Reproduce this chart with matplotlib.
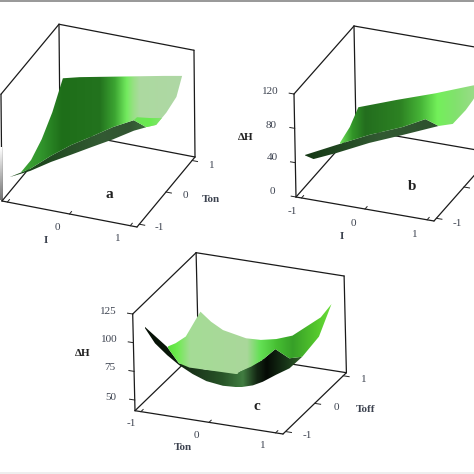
#### Three response surfaces (dH vs I, Ton, Toff) drawn on one sheet ####

import matplotlib
matplotlib.use('Agg')
import matplotlib.pyplot as plt
import numpy as np
from matplotlib.colors import LinearSegmentedColormap
from matplotlib.patches import Polygon

plt.rcParams['font.family'] = ['Liberation Serif', 'DejaVu Serif']

tick_pos = [-0.92, 0, 0.9]
tick_text = ['-1', '0', '1']

# Panel a: surface outline (I, Ton, dH)
a_top_x = [-.95, -.7, -.45, -.2, .05, .3, .55, .7, .82, .82, .82, .82,
           .55, .3, .05, -.2, -.45, -.7, -.95, -.95, -.95, -.95, -.95]
a_top_y = [-.85, -.72, -.58, -.45, -.31, -.18, -.04, .04, .1, .45, .8, 1,
           1, 1, 1, 1, 1, 1, 1, .63, .26, -.11, -.48]
a_top_z = [22, 30, 43, 54, 62, 71, 77, 68, 70, 70, 74, 90,
           86, 82, 78, 74, 70, 66, 61, 37, 21, 12, 12]
a_low_x = [-.95, -.7, -.45, -.2, .05, .3, .55, .7, .55, .3, .05, -.2, -.45, -.7]
a_low_y = [-.85, -.72, -.58, -.45, -.31, -.18, -.04, .04, -.04, -.18, -.31, -.45, -.58, -.72]
a_low_z = [22, 30, 43, 54, 62, 71, 77, 68, 65, 57, 50, 43, 36, 27.6]
# bright patch at the front right corner of a
a_tip_x = [.55, .7, .82, .82, .7, .55]
a_tip_y = [-.04, .04, .1, .3, .2, .07]
a_tip_z = [77, 68, 70, 70, 72, 76]

# Panel b
b_top_x = [-.57, -.17, .24, .52, .68, .85, .85, .85, .85, .71, .17, -.41, -.96, -.96, -.96]
b_top_y = [-.62, -.44, -.26, -.14, -.07, .01, .44, .68, 1, 1, 1, 1, 1, .71, .37]
b_top_z = [51.5, 61.7, 69.6, 77.9, 69.4, 71, 70, 72, 78, 74.6, 58, 42, 25.9, 14.4, 9]
b_low_x = [-.96, -.57, -.17, .24, .52, .68, .24, -.17, -.57, -.85]
b_low_y = [-.79, -.62, -.44, -.26, -.14, -.07, -.26, -.44, -.62, -.74]
b_low_z = [41, 51.5, 61.7, 69.6, 77.9, 69.4, 60.3, 52.4, 42.2, 36]

# Panel c
c_top_x = [-.73, -.6, -.48, -.29, .1, .09, .23, .36, .51, .67, .82, .82, .82,
           .67, .28, .06, -.15, -.35, -.66, -.82,
           -.96, -.96, -.96, -.96]
c_top_y = [-.58, -.52, -.47, -.39, -.32, -.24, -.18, -.13, -.06, 0, .06, .59, 1,
           1, 1, 1, 1, 1, 1, 1,
           1, .84, .53, .21]
c_top_z = [87.9, 73.3, 69.4, 67.2, 65.5, 65.4, 69.7, 75.4, 84.6, 76.6, 77.9, 81.3, 98.7,
           85.6, 65.7, 60.5, 57.6, 57, 61, 66.7,
           74, 71, 64.9, 67.6]
c_low_x = [-1, -.73, -.6, -.29, .09, .36, .51, .67, .82, .67, .51, .36, .245, .09, -.1, -.29,
           -.445, -.6, -.73, -.87]
c_low_y = [-.69, -.58, -.52, -.39, -.24, -.13, -.06, 0, .06, 0, -.06, -.13, -.175, -.24, -.316, -.39,
           -.457, -.52, -.58, -.63]
c_low_z = [107, 87.9, 73.3, 67.2, 65.4, 75.4, 84.6, 76.6, 77.9, 67.9, 62.2, 56.5, 53.4, 51.8, 53.3, 57.4,
           63.8, 71.8, 80.6, 90.9]

# Colours along the screen x of each surface
a_top_col = [(10, (70, 170, 60)), (40, (50, 150, 45)), (62, (30, 110, 25)), (100, (35, 115, 30)),
             (115, (60, 165, 50)), (127, (115, 235, 95)), (133, (150, 225, 130)),
             (140, (172, 218, 160)), (185, (175, 215, 165))]
a_low_col = [(10, (20, 60, 20)), (100, (50, 90, 50)), (130, (50, 85, 50)), (146, (60, 110, 60))]
a_tip_col = [(130, (110, 225, 90)), (150, (105, 235, 80)), (165, (140, 225, 120))]
b_top_col = [(340, (110, 225, 90)), (352, (50, 150, 40)), (365, (35, 110, 30)), (400, (45, 130, 35)),
             (420, (70, 180, 55)), (437, (115, 240, 90)), (455, (130, 225, 110)), (490, (175, 215, 160))]
b_low_col = [(305, (20, 55, 20)), (380, (50, 90, 50)), (441, (45, 80, 45))]
c_top_col = [(168, (90, 225, 60)), (177, (110, 235, 80)), (190, (165, 220, 150)), (247, (170, 215, 155)),
             (260, (100, 225, 85)), (277, (70, 190, 50)), (293, (55, 160, 40)), (317, (85, 200, 45)),
             (334, (110, 225, 60))]
c_low_col = [(145, (5, 15, 5)), (173, (10, 25, 10)), (190, (25, 50, 25)), (223, (40, 85, 40)),
             (243, (65, 125, 65)), (257, (20, 40, 20)), (267, (5, 10, 5)), (287, (25, 55, 25)),
             (304, (50, 100, 40))]

fig = plt.figure(figsize=(4.74, 4.74), dpi=100)
ax = fig.add_axes([0, 0, 1, 1])


def project(view, x, y, z):
    # view = origin, x axis, y axis, z axis (pixels), z at bottom, z span
    o, ex, ey, ez, z0, zs = view
    x, y, z = np.asarray(x, float), np.asarray(y, float), np.asarray(z, float)
    a = (x + 1) / 2
    b = (y + 1) / 2
    c = (z - z0) / zs
    return o[0] + a * ex[0] + b * ey[0] + c * ez[0], o[1] + a * ex[1] + b * ey[1] + c * ez[1]


def surface(view, xs, ys, zs, stops):
    px, py = project(view, xs, ys, zs)
    left, right = stops[0][0], stops[-1][0]
    cmap = LinearSegmentedColormap.from_list(
        'g', [((s - left) / (right - left), tuple(v / 255 for v in c)) for s, c in stops])
    im = ax.imshow(np.linspace(0, 1, 256)[None, :], extent=(left, right, py.max(), py.min()),
                   cmap=cmap, aspect='auto', zorder=3, interpolation='bilinear')
    clip = Polygon(np.column_stack([px, py]), transform=ax.transData)
    im.set_clip_path(clip)


def box(view, ztop, zticks=(), front_left=True):
    z0 = view[4]
    edges = [((-1, -1, z0), (1, -1, z0)), ((1, -1, z0), (1, 1, z0)), ((1, 1, z0), (-1, 1, z0)),
             ((-1, 1, z0), (-1, -1, z0)), ((-1, 1, z0), (-1, 1, ztop)), ((1, 1, z0), (1, 1, ztop)),
             ((-1, 1, ztop), (1, 1, ztop)), ((-1, 1, ztop), (-1, -1, ztop))]
    if front_left:
        edges.append(((-1, -1, z0), (-1, -1, ztop)))
    for p, q in edges:
        lx, ly = project(view, [p[0], q[0]], [p[1], q[1]], [p[2], q[2]])
        ax.plot(lx, ly, color='#1a1a1a', lw=0.9, zorder=2, solid_capstyle='round')
    for t in tick_pos:
        lx, ly = project(view, [t, t], [-1, -.93], [z0, z0])
        ax.plot(lx, ly, color='#222222', lw=0.7, zorder=2)
        lx, ly = project(view, [1, 1.08], [t, t], [z0, z0])
        ax.plot(lx, ly, color='#222222', lw=0.7, zorder=2)
    for t in zticks:
        lx, ly = project(view, [-1, -1.07], [-1, -1], [t, t])
        ax.plot(lx, ly, color='#222222', lw=0.7, zorder=2)


def label(x, y, s, size=8, bold=False, color='#3d4350'):
    ax.text(x, y, s, fontsize=size, color=color, ha='center', va='center',
            fontweight='bold' if bold else 'normal', zorder=5)


# Scan border of the sheet
ax.fill_between([0, 474], 0, 2, color='#9a9a9a', lw=0)
ax.fill_between([0, 474], 472, 474, color='#eeeeee', lw=0)

view_a = ((2, 201), (135, 26), (58, -70), (-1, -105), 0, 120)
box(view_a, 122)
ax.imshow(np.linspace(1, 0.45, 64)[:, None], extent=(0, 2, 200, 147), cmap='gray', vmin=0, vmax=1,
          aspect='auto', zorder=3)
surface(view_a, a_low_x, a_low_y, a_low_z, a_low_col)
surface(view_a, a_top_x, a_top_y, a_top_z, a_top_col)
surface(view_a, a_tip_x, a_tip_y, a_tip_z, a_tip_col)

view_b = ((296, 197), (138, 24), (60, -68), (-2, -103), 0, 120)
box(view_b, 120, [0, 40, 80, 120])
surface(view_b, b_low_x, b_low_y, b_low_z, b_low_col)
surface(view_b, b_top_x, b_top_y, b_top_z, b_top_col)

view_c = ((135, 410.7), (148, 23.3), (63.4, -61.3), (-2.3, -96.7), 40.7, 84.3)
box(view_c, 125, [50, 75, 100, 125])
surface(view_c, c_low_x, c_low_y, c_low_z, c_low_col)
surface(view_c, c_top_x, c_top_y, c_top_z, c_top_col)

# Panel a text
for (x, y), s in zip([(159, 227), (185, 196), (212, 165)], tick_text):
    label(x, y, s)
for (x, y), s in zip([(57, 227), (118, 238)], tick_text[1:]):
    label(x, y, s)
label(211, 200, 'Ton', bold=True)
label(46, 240, 'I', bold=True)
label(109, 194, 'a', size=11, bold=True, color='#222222')

# Panel b text
for (x, y), s in zip([(272, 192), (272, 157), (271, 125), (270, 91)], ['0', '40', '80', '120']):
    label(x, y, s)
for (x, y), s in zip([(292, 212), (353, 223), (415, 234)], tick_text):
    label(x, y, s)
label(457, 223, '-1')
label(246, 137, 'ΔH', bold=True, color='#222222')
label(342, 236, 'I', bold=True)
label(412, 186, 'b', size=11, bold=True, color='#222222')

# Panel c text
for (x, y), s in zip([(111, 397), (110, 368), (109, 340), (108, 311)], ['50', '75', '100', '125']):
    label(x, y, s)
for (x, y), s in zip([(131, 424), (196, 435), (263, 446)], tick_text):
    label(x, y, s)
for (x, y), s in zip([(307, 436), (336, 407), (364, 379)], tick_text):
    label(x, y, s)
label(83, 353, 'ΔH', bold=True, color='#222222')
label(183, 448, 'Ton', bold=True)
label(366, 410, 'Toff', bold=True)
label(257, 406, 'c', size=11, bold=True, color='#222222')

ax.set_xlim(0, 474)
ax.set_ylim(474, 0)
ax.axis('off')
fig.savefig('out.png', dpi=100)
